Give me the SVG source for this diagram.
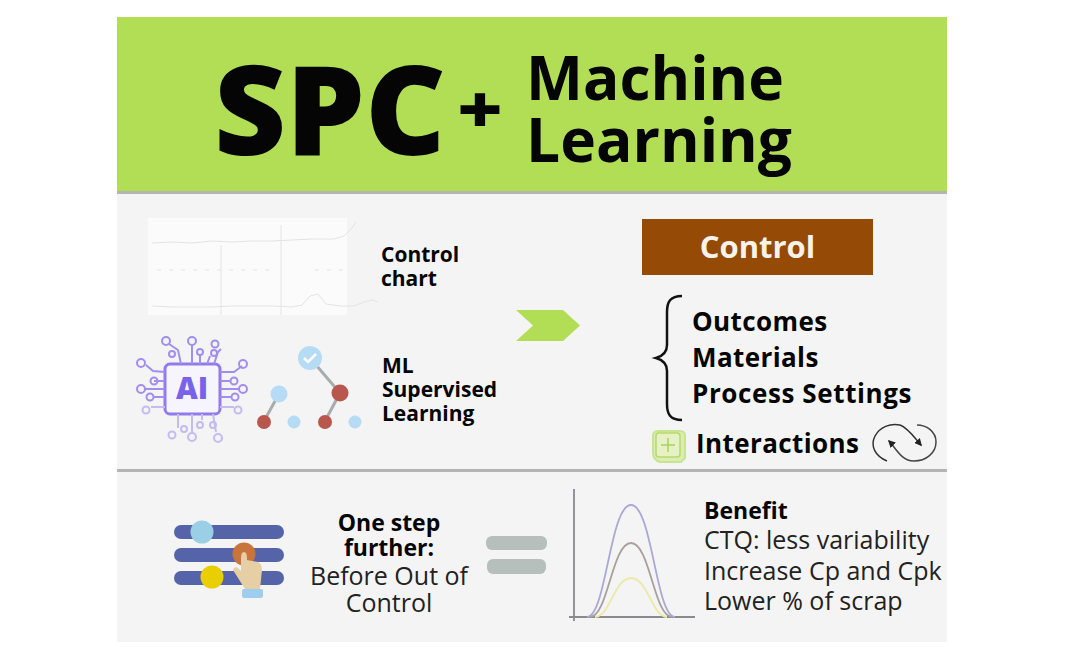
<svg xmlns="http://www.w3.org/2000/svg" width="1080" height="647" viewBox="0 0 1080 647">
<style>
text{font-family:"Open Sans","Liberation Sans",sans-serif;fill:#050505}
.b{font-weight:800}
.sb{font-weight:700}
.r{font-weight:400;fill:#222}
.lab{font-size:21px;font-weight:700}
.big{font-size:26px;font-weight:700}
.mid{font-size:25px}
.ben{font-size:25px;font-weight:400;fill:#222}
.chip{fill:none;stroke:#a08fee;stroke-width:2}
.chip2{fill:none;stroke:#c4bbf0;stroke-width:2}
.ch{fill:none;stroke:#e2e4e2;stroke-width:1}
</style>
<defs>
<marker id="ah" viewBox="0 0 10 10" refX="8" refY="5" markerWidth="5" markerHeight="5" orient="auto-start-reverse"><path d="M0 0L10 5L0 10z" fill="#222"/></marker>
</defs>
<rect width="1080" height="647" fill="#fff"/>
<g id="header">
<rect x="117" y="17" width="830" height="175" fill="#b2de55"/>
<text x="214" y="155" font-size="124" class="b" textLength="232" lengthAdjust="spacingAndGlyphs">SPC</text>
<text x="457" y="133" font-size="68" class="b" textLength="46" lengthAdjust="spacingAndGlyphs">+</text>
<text x="526" y="100" font-size="60" class="sb" textLength="258" lengthAdjust="spacingAndGlyphs">Machine</text>
<text x="526" y="162" font-size="60" class="sb" textLength="266" lengthAdjust="spacingAndGlyphs">Learning</text>
</g>
<g id="panels">
<rect x="117" y="192" width="830" height="450" fill="#f4f4f4"/>
<rect x="117" y="191" width="830" height="3" fill="#b4b4b4"/>
<rect x="117" y="469" width="830" height="3" fill="#b4b4b4"/>
</g>
<g id="control-chart">
<rect x="148" y="218" width="199" height="97" fill="#fbfbfb"/>
<path class="ch" d="M152 243l20 -1 20 1 20 -2 20 1 20 -1 20 0 20 -1 20 -1 8 0 14 0 10 -3 8 -8 4 -6M152 306l20 1 20 0 20 0 20 -1 20 0 20 0 20 1 10 -2 8 -9 8 -2 8 10 14 2 14 0 10 -4 8 -2 6 2M281 225v90M221 245v70"/>
<path class="ch" stroke-dasharray="4 8" d="M157 270H272M315 270H345"/>
</g>
<g id="control-chart-label">
<text x="381" y="262" class="lab">Control</text>
<text x="381" y="286" class="lab">chart</text>
</g>
<g id="ai-chip">
<rect x="165" y="364" width="55" height="50" rx="5" fill="#f6f5fe" stroke="#8f7bec" stroke-width="3"/>
<text x="192" y="399" font-size="30" class="b" text-anchor="middle" style="fill:#7a63ea">AI</text>
<path class="chip" d="M165 372l-12 -1 -7 -6M165 381h-11M165 389h-20M165 397h-12M192 364v-19M181 364l-3 -14 -9 -6M200 364v-9M207 364l3 -8M214 364l4 -12 3 -3M220 372h14l8 -6M220 381h11M220 389h20M220 397h12"/>
<path class="chip2" d="M165 407h-14M220 407h14M178 414v14M192 414v18M202 414v6M213 414l3 18"/>
<g class="chip">
<circle cx="141" cy="363" r="4"/><circle cx="154" cy="381" r="3.500"/><circle cx="141" cy="389" r="4"/><circle cx="150" cy="397" r="3.500"/>
<circle cx="166" cy="341" r="4"/><circle cx="192" cy="341" r="4"/><circle cx="215" cy="344" r="3.500"/><circle cx="200" cy="352" r="3"/><circle cx="172" cy="354" r="3"/><circle cx="214" cy="353" r="3"/>
<circle cx="243" cy="364" r="4"/><circle cx="234" cy="381" r="3.500"/><circle cx="243" cy="389" r="4"/><circle cx="235" cy="397" r="3.500"/>
</g>
<g class="chip2">
<circle cx="146" cy="410" r="3.500"/><circle cx="238" cy="410" r="3.500"/><circle cx="172" cy="435" r="3.500"/><circle cx="192" cy="437" r="4"/><circle cx="184" cy="429" r="3"/><circle cx="200" cy="425" r="3"/><circle cx="218" cy="438" r="4"/><circle cx="213" cy="425" r="3"/>
</g>
</g>
<g id="decision-tree">
<path d="M310 358L340 393M279 394L264 421M340 393L325 421" stroke="#a8acac" stroke-width="3" fill="none"/>
<circle cx="310" cy="358" r="12" fill="#b6dcf5"/>
<path d="M304 358l4 4 8 -8" fill="none" stroke="#fff" stroke-width="2.500"/>
<circle cx="279" cy="394" r="8.500" fill="#b6dcf5"/>
<circle cx="340" cy="393" r="8.500" fill="#b9574e"/>
<circle cx="264" cy="422" r="7" fill="#b9574e"/>
<circle cx="294" cy="422" r="6.500" fill="#b6dcf5"/>
<circle cx="325" cy="422" r="7" fill="#b9574e"/>
<circle cx="355" cy="422" r="6.500" fill="#b6dcf5"/>
</g>
<g id="ml-label">
<text x="382" y="373" class="lab">ML</text>
<text x="382" y="397" class="lab">Supervised</text>
<text x="382" y="421" class="lab">Learning</text>
</g>
<g id="arrow">
<path d="M516 310H563L580 325.500L563 341H516L533 325.500z" fill="#b2de55"/>
</g>
<g id="control-box">
<rect x="642" y="219" width="231" height="56" fill="#954a06"/>
<text x="757.500" y="258" font-size="31" class="sb" text-anchor="middle" style="fill:#f7f2ea">Control</text>
</g>
<g id="brace">
<path d="M682 296C670 296 667 302 667 312V345C667 352 663 356 656 358C663 360 667 364 667 371V404C667 414 670 420 682 420" fill="none" stroke="#111" stroke-width="2.500"/>
</g>
<g id="control-list">
<text x="692" y="331" class="big" style="letter-spacing:.4px">Outcomes</text>
<text x="692" y="367" class="big" style="letter-spacing:.4px">Materials</text>
<text x="692" y="403" class="big" style="letter-spacing:.6px">Process Settings</text>
</g>
<g id="interactions">
<path d="M658 431H680Q685 431 685 436V458L681 462H660Q653 460 653 453V436Q653 431 658 431z" fill="#dcedb4" stroke="#c8e48e" stroke-width="2"/>
<rect x="656" y="433" width="24" height="24" rx="3" fill="#e6f1c6" stroke="#b5da68" stroke-width="1.500"/>
<path d="M668 438V452M661 445H675" stroke="#a9d25a" stroke-width="1.500" fill="none"/>
<text x="696" y="453" class="big" style="letter-spacing:.4px">Interactions</text>
<path d="M887 461C875 456 870 446 875 436C880 427 890 423 900 425C908 428 914 437 921 445" fill="none" stroke="#333" stroke-width="1.500" marker-end="url(#ah)"/>
<path d="M889 441C895 447 901 461 914 461C926 461 936 453 936 442C936 431 926 425 917 425" fill="none" stroke="#444" stroke-width="1.500" marker-start="url(#ah)"/>
</g>
<g id="sliders">
<rect x="174" y="525" width="110" height="14" rx="7" fill="#5563a8"/>
<rect x="174" y="548" width="110" height="14" rx="7" fill="#5563a8"/>
<rect x="174" y="571" width="110" height="14" rx="7" fill="#5563a8"/>
<circle cx="202" cy="532" r="11.500" fill="#9bcfe6"/>
<circle cx="244" cy="554" r="11.500" fill="#c9743c"/>
<circle cx="212" cy="577" r="11.500" fill="#e9cf00"/>
<path d="M241 558Q241 552 244 552Q247 552 247 558V560L258 562Q262 564 262 570L260 589H245L233 570Q234 566 238 568L241 571z" fill="#e6cfa4"/>
<rect x="242" y="589" width="21" height="9" rx="2" fill="#9fcdf0"/>
</g>
<g id="one-step">
<text x="389" y="531" class="mid sb" text-anchor="middle" style="font-size:23px">One step</text>
<text x="389" y="556" class="mid sb" text-anchor="middle" style="font-size:23px">further:</text>
<text x="389" y="585" class="mid r" text-anchor="middle">Before Out of</text>
<text x="389" y="612" class="mid r" text-anchor="middle">Control</text>
</g>
<g id="equals">
<rect x="486" y="536" width="61" height="14" rx="6" fill="#b7bfbd"/>
<rect x="487" y="559" width="59" height="15" rx="6" fill="#b7bfbd"/>
</g>
<g id="curves">
<path d="M574 489V621M569 617H695" stroke="#8a8a8e" stroke-width="1.800" fill="none"/>
<path d="M587 617C606 617 610 505 631 505C652 505 656 617 675 617" fill="none" stroke="#a9a8d6" stroke-width="1.800"/>
<path d="M590 617C608 617 612 543 631 543C650 543 654 617 672 617" fill="none" stroke="#a99f9e" stroke-width="1.800"/>
<path d="M595 617C610 617 614 578 631 578C648 578 652 617 667 617" fill="none" stroke="#ebe9a6" stroke-width="1.800"/>
</g>
<g id="benefit">
<text x="704" y="519" font-size="23" class="sb">Benefit</text>
<text x="704" y="549" class="ben">CTQ: less variability</text>
<text x="704" y="580" class="ben">Increase Cp and Cpk</text>
<text x="704" y="610" class="ben">Lower % of scrap</text>
</g>
</svg>
